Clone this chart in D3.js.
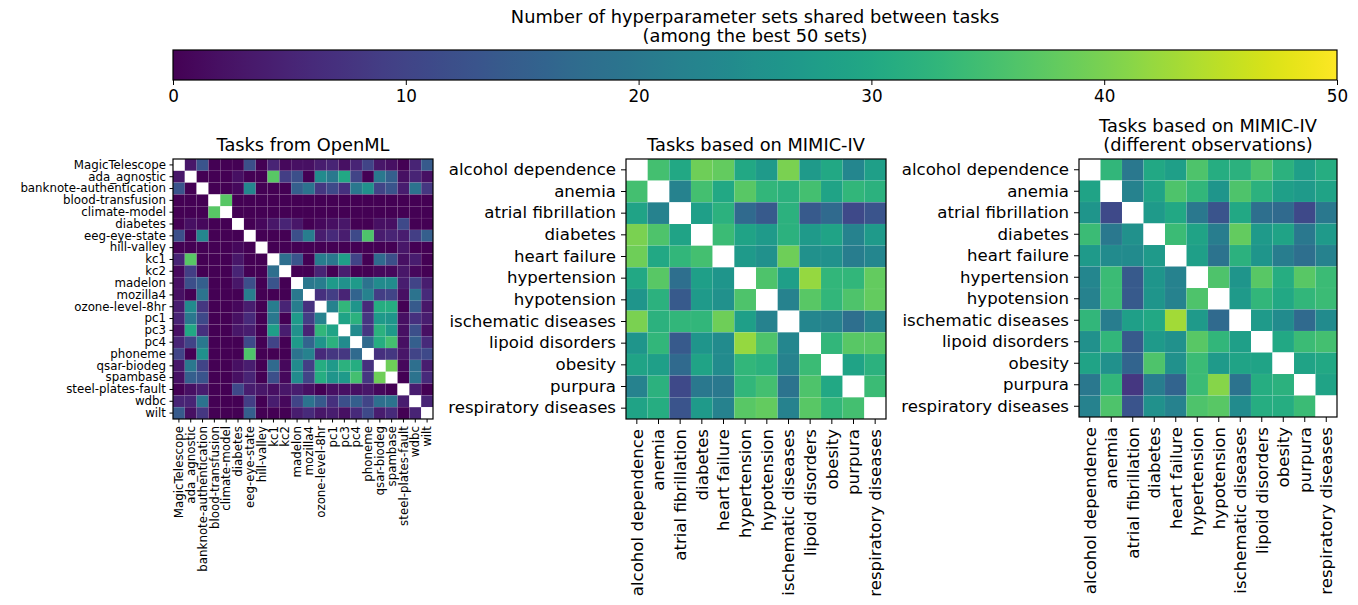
<!DOCTYPE html>
<html>
<head>
<meta charset="utf-8">
<script src="https://cdn.jsdelivr.net/npm/d3@7"></script>
<style>
  body { margin: 0; background: #fff; }
  svg text { font-family: "DejaVu Sans", sans-serif; fill: #000; }
</style>
</head>
<body>
<script>
const w = 1358
const h = 605

// Colorbar
const colorTitle = ["Number of hyperparameter sets shared between tasks", "(among the best 50 sets)"]
const colorTicks = [0, 10, 20, 30, 40, 50]

// OpenML tasks (diagonal left empty)
const openmlTasks = ["MagicTelescope", "ada_agnostic", "banknote-authentication", "blood-transfusion",
  "climate-model", "diabetes", "eeg-eye-state", "hill-valley", "kc1", "kc2", "madelon", "mozilla4",
  "ozone-level-8hr", "pc1", "pc3", "pc4", "phoneme", "qsar-biodeg", "spambase", "steel-plates-fault",
  "wdbc", "wilt"]
const openmlShared = [
  [null, 3, 13, 0, 0, 0, 12, 0, 5, 1, 2, 2, 4, 5, 2, 5, 10, 3, 2, 0, 5, 14],
  [3, null, 0, 0, 0, 2, 0, 0, 37, 9, 12, 0, 24, 20, 30, 10, 0, 20, 15, 2, 5, 2],
  [13, 0, null, 0, 0, 1, 23, 0, 0, 0, 15, 19, 8, 11, 7, 20, 25, 10, 13, 4, 19, 8],
  [0, 0, 0, null, 37, 0, 0, 0, 0, 0, 0, 0, 0, 0, 0, 0, 0, 0, 0, 0, 0, 0],
  [0, 0, 0, 37, null, 0, 0, 0, 0, 0, 0, 0, 0, 0, 0, 0, 0, 0, 0, 0, 0, 0],
  [0, 2, 1, 0, 0, null, 0, 1, 3, 5, 3, 0, 1, 2, 3, 0, 0, 2, 2, 11, 0, 0],
  [12, 0, 23, 0, 0, 0, null, 0, 0, 0, 12, 21, 4, 6, 4, 11, 36, 4, 5, 4, 9, 15],
  [0, 0, 0, 0, 0, 1, 0, null, 0, 0, 0, 0, 0, 0, 0, 0, 0, 0, 0, 3, 0, 0],
  [5, 37, 0, 0, 0, 3, 0, 0, null, 18, 13, 0, 21, 20, 28, 10, 0, 17, 12, 2, 4, 0],
  [1, 9, 0, 0, 0, 5, 0, 0, 18, null, 0, 0, 5, 0, 4, 0, 0, 1, 1, 3, 1, 0],
  [2, 12, 15, 0, 0, 3, 12, 0, 13, 0, null, 20, 21, 27, 25, 27, 19, 24, 24, 4, 10, 4],
  [2, 0, 19, 0, 0, 0, 21, 0, 0, 0, 20, null, 7, 9, 5, 16, 22, 9, 10, 2, 19, 6],
  [4, 24, 8, 0, 0, 1, 4, 0, 21, 5, 21, 7, null, 22, 33, 26, 6, 31, 31, 0, 14, 3],
  [5, 20, 11, 0, 0, 2, 6, 0, 20, 0, 27, 9, 22, null, 29, 32, 8, 27, 26, 2, 7, 4],
  [2, 30, 7, 0, 0, 3, 4, 0, 28, 4, 25, 5, 33, 29, null, 24, 8, 32, 27, 2, 12, 2],
  [5, 10, 20, 0, 0, 0, 11, 0, 10, 0, 27, 16, 26, 32, 24, null, 17, 31, 35, 2, 15, 6],
  [10, 0, 25, 0, 0, 0, 36, 0, 0, 0, 19, 22, 6, 8, 8, 17, null, 7, 8, 3, 10, 11],
  [3, 20, 10, 0, 0, 2, 4, 0, 17, 1, 24, 9, 31, 27, 32, 31, 7, null, 39, 1, 18, 4],
  [2, 15, 13, 0, 0, 2, 5, 0, 12, 1, 24, 10, 31, 26, 27, 35, 8, 39, null, 0, 19, 6],
  [0, 2, 4, 0, 0, 11, 4, 3, 2, 3, 4, 2, 0, 2, 2, 2, 3, 1, 0, null, 4, 0],
  [5, 5, 19, 0, 0, 0, 9, 0, 4, 1, 10, 19, 14, 7, 12, 15, 10, 18, 19, 4, null, 5],
  [14, 2, 8, 0, 0, 0, 15, 0, 0, 0, 4, 6, 3, 4, 2, 6, 11, 4, 6, 0, 5, null]
]

// MIMIC-IV tasks
const mimicTasks = ["alcohol dependence", "anemia", "atrial fibrillation", "diabetes", "heart failure",
  "hypertension", "hypotension", "ischematic diseases", "lipoid disorders", "obesity", "purpura",
  "respiratory diseases"]
const mimicShared = [
  [null, 35, 30, 39, 38, 30, 27, 40, 27, 30, 23, 28],
  [35, null, 22, 35, 30, 37, 33, 32, 35, 29, 33, 32],
  [29, 22, null, 28, 32, 17, 14, 32, 14, 17, 11, 13],
  [40, 36, 29, null, 34, 29, 27, 32, 27, 29, 22, 27],
  [39, 30, 33, 35, null, 27, 25, 39, 25, 25, 21, 23],
  [30, 37, 18, 28, 26, null, 36, 28, 42, 33, 33, 38],
  [26, 32, 14, 27, 25, 36, null, 22, 37, 33, 36, 38],
  [40, 32, 33, 33, 39, 28, 22, null, 23, 22, 18, 22],
  [26, 33, 14, 26, 24, 42, 36, 23, null, 33, 37, 37],
  [29, 28, 17, 29, 24, 33, 32, 22, 34, null, 29, 32],
  [22, 32, 11, 20, 20, 33, 35, 19, 36, 30, null, 34],
  [29, 31, 13, 27, 22, 37, 38, 22, 37, 33, 35, null]
]
// MIMIC-IV, different observations
const mimicObsShared = [
  [null, 33, 20, 30, 28, 36, 31, 32, 36, 32, 28, 31],
  [29, null, 22, 29, 36, 33, 26, 36, 32, 28, 27, 29],
  [26, 11, null, 27, 30, 20, 13, 30, 18, 17, 11, 20],
  [34, 20, 25, null, 34, 29, 21, 38, 27, 29, 20, 27],
  [27, 24, 24, 27, null, 28, 19, 32, 26, 21, 18, 22],
  [23, 34, 14, 26, 22, null, 36, 26, 37, 31, 37, 34],
  [22, 34, 14, 26, 22, 36, null, 27, 33, 30, 33, 34],
  [33, 21, 28, 30, 43, 27, 17, null, 27, 24, 17, 24],
  [25, 33, 14, 27, 25, 37, 33, 28, null, 30, 34, 35],
  [29, 25, 16, 36, 25, 34, 27, 29, 29, null, 29, 30],
  [20, 33, 8, 21, 16, 34, 41, 19, 31, 32, null, 29],
  [22, 36, 13, 25, 22, 36, 37, 24, 31, 31, 34, null]
]

const color = d3.scaleSequential(d3.interpolateViridis).domain([0, 50])

const svg = d3.select("body")
              .append("svg")
              .attr("width", w)
              .attr("height", h)

// ---- colorbar ----
const cbLeft = 173, cbRight = 1337, cbTop = 50, cbHeight = 30
const cbScale = d3.scaleLinear().domain([0, 50]).range([cbLeft, cbRight])

const grad = svg.append("defs")
                .append("linearGradient")
                .attr("id", "viridis")
grad.selectAll("stop")
    .data(d3.range(0, 51))
    .enter()
    .append("stop")
    .attr("offset", d => (d / 50 * 100) + "%")
    .attr("stop-color", d => color(d))

svg.append("rect")
   .attr("x", cbLeft)
   .attr("y", cbTop)
   .attr("width", cbRight - cbLeft)
   .attr("height", cbHeight)
   .attr("fill", "url(#viridis)")
   .attr("stroke", "#000")
   .attr("stroke-width", 1.2)

const cbAxis = svg.append("g")
                  .attr("transform", `translate(0, ${cbTop + cbHeight})`)
                  .call(d3.axisBottom(cbScale).tickValues(colorTicks).tickSize(5).tickPadding(5))
cbAxis.select(".domain").remove()
cbAxis.selectAll("text").attr("font-size", 16.8).attr("font-family", "DejaVu Sans")
cbAxis.selectAll("line").attr("stroke", "#000")

svg.selectAll(".cb-title")
   .data(colorTitle)
   .enter()
   .append("text")
   .attr("class", "cb-title")
   .attr("x", (cbLeft + cbRight) / 2)
   .attr("y", (d, i) => 23 + i * 19)
   .attr("text-anchor", "middle")
   .attr("font-size", 17.8)
   .text(d => d)

// ---- heatmaps ----
const panels = [
  { title: ["Tasks from OpenML"], tasks: openmlTasks, values: openmlShared, x: 173, y: 159, size: 260, font: 11.8, tick: 3.5 },
  { title: ["Tasks based on MIMIC-IV"], tasks: mimicTasks, values: mimicShared, x: 626, y: 159, size: 260, font: 16.6, tick: 5 },
  { title: ["Tasks based on MIMIC-IV", "(different observations)"], tasks: mimicTasks, values: mimicObsShared, x: 1079, y: 159, size: 258, font: 16.6, tick: 5 }
]

const drawPanel = (p) => {
  const g = svg.append("g").attr("transform", `translate(${p.x}, ${p.y})`)

  const x = d3.scaleBand().domain(p.tasks).range([0, p.size])
  const y = d3.scaleBand().domain(p.tasks).range([0, p.size])

  const cells = []
  p.values.forEach((row, i) => row.forEach((v, j) => cells.push({ row: p.tasks[i], col: p.tasks[j], value: v })))

  g.selectAll("rect.cell")
   .data(cells)
   .enter()
   .append("rect")
   .attr("class", "cell")
   .attr("x", d => x(d.col))
   .attr("y", d => y(d.row))
   .attr("width", x.bandwidth())
   .attr("height", y.bandwidth())
   .attr("fill", d => d.value === null ? "#fff" : color(d.value))
   .attr("stroke", d => d.value === null ? "none" : "rgba(255,255,255,0.07)")
   .attr("stroke-width", 0.6)

  g.append("rect")
   .attr("width", p.size)
   .attr("height", p.size)
   .attr("fill", "none")
   .attr("stroke", "#000")
   .attr("stroke-width", 1.2)

  const yAxis = g.append("g").call(d3.axisLeft(y).tickSize(p.tick).tickPadding(p.tick))
  yAxis.select(".domain").remove()
  yAxis.selectAll("text").attr("font-size", p.font).attr("font-family", "DejaVu Sans")
  yAxis.selectAll("line").attr("stroke", "#000")

  const xAxis = g.append("g")
                 .attr("transform", `translate(0, ${p.size})`)
                 .call(d3.axisBottom(x).tickSize(p.tick))
  xAxis.select(".domain").remove()
  xAxis.selectAll("line").attr("stroke", "#000")
  xAxis.selectAll("text")
       .attr("font-size", p.font)
       .attr("font-family", "DejaVu Sans")
       .attr("transform", "rotate(-90)")
       .attr("text-anchor", "end")
       .attr("x", -(p.tick * 2))
       .attr("y", 0)
       .attr("dy", "0.35em")

  const n = p.title.length
  g.selectAll(".panel-title")
   .data(p.title)
   .enter()
   .append("text")
   .attr("class", "panel-title")
   .attr("x", p.size / 2)
   .attr("y", (d, i) => -8 - (n - 1 - i) * 19)
   .attr("text-anchor", "middle")
   .attr("font-size", 17.8)
   .text(d => d)
}

panels.forEach(drawPanel)
</script>
</body>
</html>
